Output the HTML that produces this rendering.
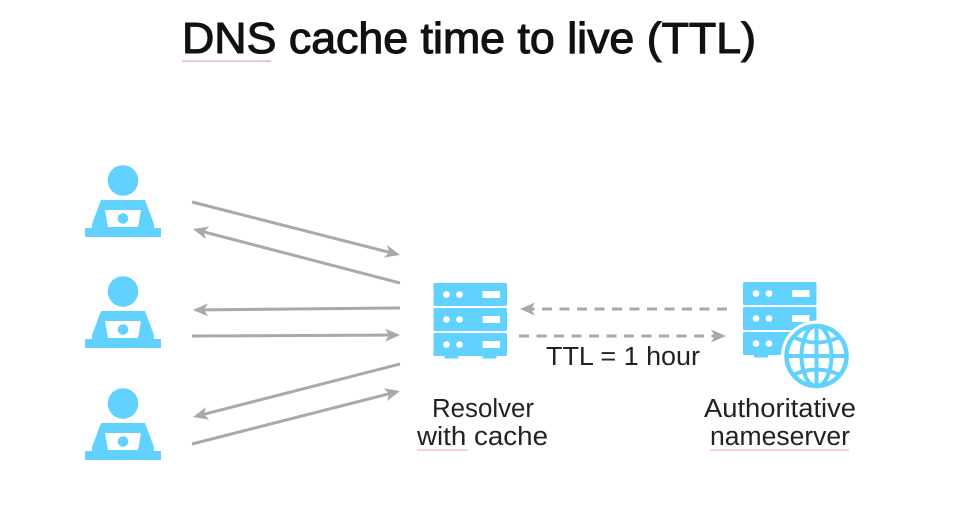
<!DOCTYPE html>
<html>
<head>
<meta charset="utf-8">
<style>
html,body{margin:0;padding:0;background:#fff;width:971px;height:515px;overflow:hidden}
svg{display:block}
text{font-family:"Liberation Sans",sans-serif;fill:#222}
</style>
</head>
<body>
<svg width="971" height="515" viewBox="0 0 971 515" xmlns="http://www.w3.org/2000/svg">
<defs>
<g id="person">
  <circle cx="123" cy="180.500" r="15.300" fill="#61d2ff"/>
  <path d="M101 200H145L154 224V228H161V237H85V228H92V224Z" fill="#61d2ff"/>
  <path d="M105 210H141L138 227H108Z" fill="#fff"/>
  <circle cx="123" cy="218.500" r="5.300" fill="#61d2ff"/>
</g>
<g id="server">
  <rect x="0" y="0" width="73.500" height="23" rx="1.500" fill="#61d2ff"/>
  <rect x="0" y="25" width="73.500" height="23" rx="1.500" fill="#61d2ff"/>
  <rect x="0" y="50" width="73.500" height="23" rx="1.500" fill="#61d2ff"/>
  <rect x="11" y="73" width="14" height="2.500" fill="#61d2ff"/>
  <rect x="49" y="73" width="14" height="2.500" fill="#61d2ff"/>
  <g fill="#fff">
    <circle cx="13" cy="11.500" r="3.300"/><circle cx="26" cy="11.500" r="3.300"/><rect x="49" y="8" width="17.500" height="7"/>
    <circle cx="13" cy="36.500" r="3.300"/><circle cx="26" cy="36.500" r="3.300"/><rect x="49" y="33" width="17.500" height="7"/>
    <circle cx="13" cy="61.500" r="3.300"/><circle cx="26" cy="61.500" r="3.300"/><rect x="49" y="58" width="17.500" height="7"/>
  </g>
</g>
<marker id="ah" markerUnits="userSpaceOnUse" markerWidth="18" markerHeight="16" refX="4" refY="7" orient="auto">
  <path d="M0 0.500L15 7L0 13.500L4 7Z" fill="#a9a9ab"/>
</marker>
</defs>

<text x="182" y="53" font-size="43.500" textLength="574" lengthAdjust="spacingAndGlyphs" stroke="#111" stroke-width="1.100" style="fill:#111">DNS cache time to live (TTL)</text>
<rect x="182" y="60.500" width="89" height="1.500" fill="#eeb4b8"/>

<use href="#person"/>
<use href="#person" y="111"/>
<use href="#person" y="223"/>

<g stroke="#a9a9ab" stroke-width="3" fill="none">
  <line x1="192" y1="202" x2="389.300" y2="252.300" marker-end="url(#ah)"/>
  <line x1="400" y1="283" x2="203.600" y2="231.800" marker-end="url(#ah)"/>
  <line x1="400" y1="308" x2="204" y2="309.900" marker-end="url(#ah)"/>
  <line x1="192" y1="336" x2="389" y2="335.050" marker-end="url(#ah)"/>
  <line x1="400" y1="364" x2="203.700" y2="414.300" marker-end="url(#ah)"/>
  <line x1="192" y1="444" x2="389.300" y2="393.700" marker-end="url(#ah)"/>
</g>
<g stroke="#a9a9ab" stroke-width="3" fill="none" stroke-dasharray="10 7.500">
  <line x1="727" y1="309" x2="531" y2="309" marker-end="url(#ah)"/>
  <line x1="519" y1="336" x2="715" y2="336" marker-end="url(#ah)"/>
</g>

<use href="#server" x="433.500" y="283"/>
<use href="#server" x="743" y="282"/>

<circle cx="816.500" cy="356" r="35.500" fill="#fff"/>
<g fill="none" stroke="#61d2ff" stroke-width="4">
  <circle cx="816.500" cy="356" r="30" stroke-width="4.500"/>
  <ellipse cx="816.500" cy="356" rx="15" ry="30"/>
  <line x1="816.500" y1="326" x2="816.500" y2="386"/>
  <line x1="786" y1="356" x2="847" y2="356"/>
  <path d="M793 337Q816.500 348 840 337"/>
  <path d="M793 375Q816.500 364 840 375"/>
</g>

<text x="546" y="365" font-size="25.500" textLength="154" lengthAdjust="spacingAndGlyphs">TTL = 1 hour</text>
<text x="432" y="417" font-size="25.500" textLength="102" lengthAdjust="spacingAndGlyphs">Resolver</text>
<text x="417" y="445" font-size="25.500" textLength="131" lengthAdjust="spacingAndGlyphs">with cache</text>
<text x="704" y="417" font-size="25.500" textLength="152" lengthAdjust="spacingAndGlyphs">Authoritative</text>
<text x="710" y="445" font-size="25.500" textLength="140" lengthAdjust="spacingAndGlyphs">nameserver</text>
<rect x="417" y="449.500" width="51" height="1.200" fill="#eeb4b8"/>
<rect x="710" y="449.500" width="139" height="1.200" fill="#eeb4b8"/>
</svg>
</body>
</html>
